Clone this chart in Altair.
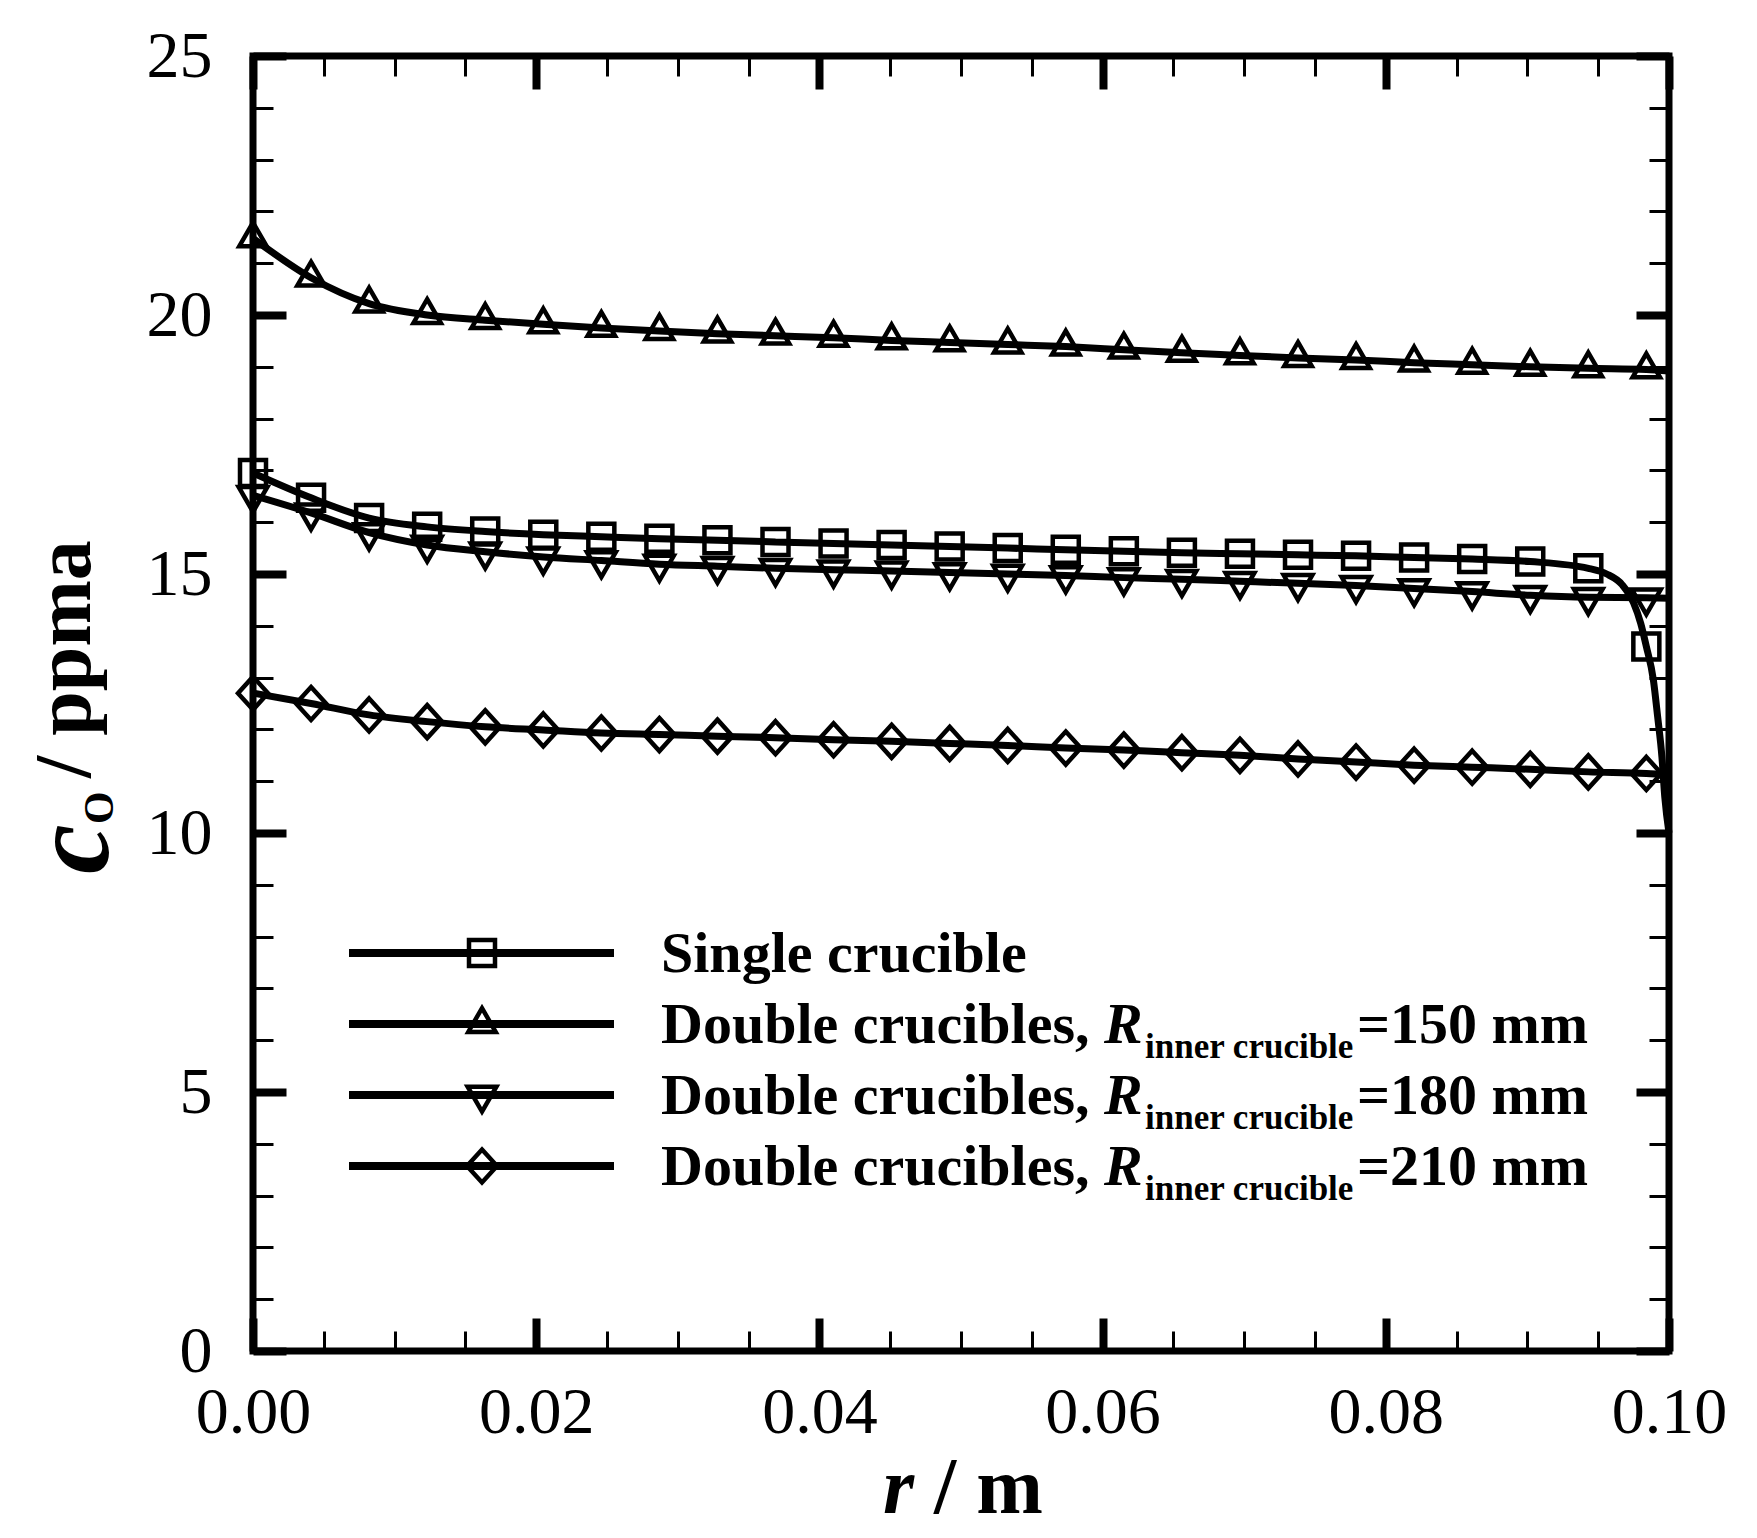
import altair as alt
import pandas as pd

# ---------------- data ----------------
r_pts = [0.0000, 0.0041, 0.0082, 0.0123, 0.0164, 0.0205, 0.0246, 0.0287, 0.0328,
         0.0369, 0.0410, 0.0451, 0.0492, 0.0533, 0.0574, 0.0615, 0.0656, 0.0697,
         0.0738, 0.0779, 0.0820, 0.0861, 0.0902, 0.0943, 0.0984]

single = [16.95, 16.47, 16.08, 15.91, 15.82, 15.76, 15.72, 15.68, 15.65, 15.62,
          15.59, 15.56, 15.53, 15.50, 15.47, 15.44, 15.41, 15.39, 15.37, 15.35,
          15.32, 15.29, 15.24, 15.11, 13.60]
d150 = [21.48, 20.72, 20.22, 20.00, 19.90, 19.82, 19.75, 19.69, 19.64, 19.60,
        19.56, 19.51, 19.47, 19.43, 19.39, 19.33, 19.27, 19.22, 19.17, 19.13,
        19.08, 19.04, 19.00, 18.97, 18.95]
d180 = [16.52, 16.18, 15.80, 15.56, 15.43, 15.33, 15.26, 15.19, 15.15, 15.11,
        15.08, 15.06, 15.03, 15.00, 14.97, 14.93, 14.90, 14.86, 14.82, 14.78,
        14.72, 14.66, 14.59, 14.55, 14.54]
d210 = [12.70, 12.50, 12.28, 12.15, 12.05, 11.99, 11.93, 11.90, 11.87, 11.84,
        11.80, 11.77, 11.73, 11.69, 11.64, 11.60, 11.55, 11.50, 11.43, 11.37,
        11.31, 11.27, 11.23, 11.18, 11.15]

r_wall = 0.1
end150, end180, end210 = 18.92, 14.53, 11.12
single_wall_r = [0.0956, 0.0967, 0.0975, 0.0980, 0.0984, 0.0989, 0.0992, 0.0995, 0.0997, 0.1000]
single_wall_c = [15.00, 14.79, 14.44, 14.05, 13.60, 12.95, 12.24, 11.47, 10.70, 10.00]

series_names = ["Single crucible", "Double crucibles, R=150 mm",
                "Double crucibles, R=180 mm", "Double crucibles, R=210 mm"]
legend_main = ["Single crucible", "Double crucibles,", "Double crucibles,", "Double crucibles,"]
legend_R = ["", "R", "R", "R"]
legend_sub = ["", "inner crucible", "inner crucible", "inner crucible"]
legend_val = ["", "=150 mm", "=180 mm", "=210 mm"]

x_major = [0.0, 0.02, 0.04, 0.06, 0.08, 0.10]
x_minor = [0.005, 0.01, 0.015, 0.025, 0.03, 0.035, 0.045, 0.05, 0.055,
           0.065, 0.07, 0.075, 0.085, 0.09, 0.095]
y_major = [0, 5, 10, 15, 20, 25]
y_minor = [1, 2, 3, 4, 6, 7, 8, 9, 11, 12, 13, 14, 16, 17, 18, 19, 21, 22, 23, 24]

x_title_parts = ["r", "/ m"]
y_title_parts = ["c", "O", "/ ppma"]

# ---------------- tables ----------------
pts = []
for name, vals in zip(series_names, [single, d150, d180, d210]):
    for r, c in zip(r_pts, vals):
        pts.append({"series": name, "r": r, "c": c})
pts_df = pd.DataFrame(pts)

line_rows = []
for r, c in zip(r_pts[:24] + single_wall_r, single[:24] + single_wall_c):
    line_rows.append({"series": series_names[0], "r": r, "c": c})
for name, vals, end in zip(series_names[1:], [d150, d180, d210], [end150, end180, end210]):
    for r, c in zip(r_pts + [r_wall], vals + [end]):
        line_rows.append({"series": name, "r": r, "c": c})
line_df = pd.DataFrame(line_rows)

leg_df = pd.DataFrame({"series": series_names, "main": legend_main, "R": legend_R,
                       "sub": legend_sub, "val": legend_val, "row": [0, 1, 2, 3]})
one = pd.DataFrame({"k": [0]})

# ---------------- styling ----------------
W, H = 1416, 1295
FONT = "Liberation Serif"
SQUARE = "M-1,-1L1,-1L1,1L-1,1Z"
TRI_UP = "M0,-1.155L1,0.577L-1,0.577Z"
TRI_DOWN = "M0,1.155L1,-0.577L-1,-0.577Z"
DIAMOND = "M0,-1.1L1,0L0,1.1L-1,0Z"
shape_scale = alt.Scale(domain=series_names, range=[SQUARE, TRI_UP, TRI_DOWN, DIAMOND])
size_scale = alt.Scale(domain=series_names, range=[676, 900, 900, 1089])

xscale = alt.Scale(domain=[0, 0.1], nice=False, zero=False)
yscale = alt.Scale(domain=[0, 25], nice=False, zero=False)


def tick_axis(orient, offset, values, size, width):
    return alt.Axis(orient=orient, offset=offset, values=values, ticks=True,
                    tickSize=size, tickWidth=width, tickColor="black",
                    labels=False, domain=False, grid=False, title=None)


x_lab_axis = alt.Axis(orient="bottom", values=x_major, format=".2f", ticks=False,
                      domain=False, grid=False, title=None, labelFont=FONT,
                      labelFontSize=66, labelColor="black", labelPadding=81,
                      labelBaseline="alphabetic", labelFlush=False, labelOverlap=False)
y_lab_axis = alt.Axis(orient="left", values=y_major, format="d", ticks=False,
                      domain=False, grid=False, title=None, labelFont=FONT,
                      labelFontSize=66, labelColor="black", labelPadding=41,
                      labelOverlap=False)

lines = alt.Chart(line_df).mark_line(interpolate="monotone", strokeWidth=7, color="black").encode(
    x=alt.X("r:Q", scale=xscale, axis=x_lab_axis),
    y=alt.Y("c:Q", scale=yscale, axis=y_lab_axis),
    detail="series:N",
)

points = alt.Chart(pts_df).mark_point(filled=False, strokeWidth=4.5, color="black", opacity=1).encode(
    x=alt.X("r:Q", scale=xscale, axis=tick_axis("top", -H, x_major, 33, 8)),
    y=alt.Y("c:Q", scale=yscale, axis=tick_axis("right", -W, y_major, 33, 8)),
    shape=alt.Shape("series:N", scale=shape_scale, legend=None),
    size=alt.Size("series:O", scale=size_scale, legend=None),
)


def ghost(xax, yax):
    return alt.Chart(pts_df).mark_point(opacity=0).encode(
        x=alt.X("r:Q", scale=xscale, axis=xax),
        y=alt.Y("c:Q", scale=yscale, axis=yax),
    )


g1 = ghost(tick_axis("top", -H, x_minor, 20, 3), tick_axis("right", -W, y_minor, 20, 3))
g2 = ghost(tick_axis("bottom", -H, x_major, 33, 8), tick_axis("left", -W, y_major, 33, 8))
g3 = ghost(tick_axis("bottom", -H, x_minor, 20, 3), tick_axis("left", -W, y_minor, 20, 3))


def txt(s, x, y, size, style="normal", angle=0):
    return alt.Chart(one).mark_text(
        text=s, font=FONT, fontSize=size, fontWeight="bold", fontStyle=style,
        align="left", baseline="alphabetic", angle=angle, color="black"
    ).encode(x=alt.value(x), y=alt.value(y))


titles = [
    txt(x_title_parts[0], 630, 1457, 80, "italic"),
    txt(x_title_parts[1], 681, 1457, 80),
    txt(y_title_parts[0], -145, 818, 112, "italic", 270),
    txt(y_title_parts[1], -140, 768, 42, "normal", 270),
    txt(y_title_parts[2], -163, 722, 80, "normal", 270),
]

leg_base = alt.Chart(leg_df).transform_calculate(
    py="897 + 71 * datum.row", ty="916 + 71 * datum.row", sy="931 + 71 * datum.row"
)
leg_line = leg_base.mark_rule(strokeWidth=8, color="black").encode(
    x=alt.value(96), x2=alt.value(361), y=alt.Y("py:Q", scale=None, axis=None)
)
leg_pts = leg_base.mark_point(filled=False, strokeWidth=4.5, color="black", opacity=1).encode(
    x=alt.value(229), y=alt.Y("py:Q", scale=None, axis=None),
    shape=alt.Shape("series:N", scale=shape_scale, legend=None),
    size=alt.Size("series:O", scale=size_scale, legend=None),
)


def leg_text(field, x, yfield, size, style="normal"):
    return leg_base.mark_text(
        font=FONT, fontSize=size, fontWeight="bold", fontStyle=style,
        align="left", baseline="alphabetic", color="black"
    ).encode(x=alt.value(x), y=alt.Y(f"{yfield}:Q", scale=None, axis=None), text=f"{field}:N")


legend_layers = [
    leg_line, leg_pts,
    leg_text("main", 408, "ty", 58),
    leg_text("R", 851, "ty", 58, "italic"),
    leg_text("sub", 892, "sy", 35),
    leg_text("val", 1104, "ty", 58),
]

chart = alt.layer(lines, points, g1, g2, g3, *titles, *legend_layers).resolve_axis(
    x="independent", y="independent"
).properties(
    width=W, height=H,
    background="white",
    autosize=alt.AutoSizeParams(type="none"),
    padding={"left": 245, "top": 48, "right": 60, "bottom": 180},
).configure_view(
    stroke="black", strokeWidth=7
)

chart.save("out.html", embed_options={"renderer": "svg", "actions": False})
